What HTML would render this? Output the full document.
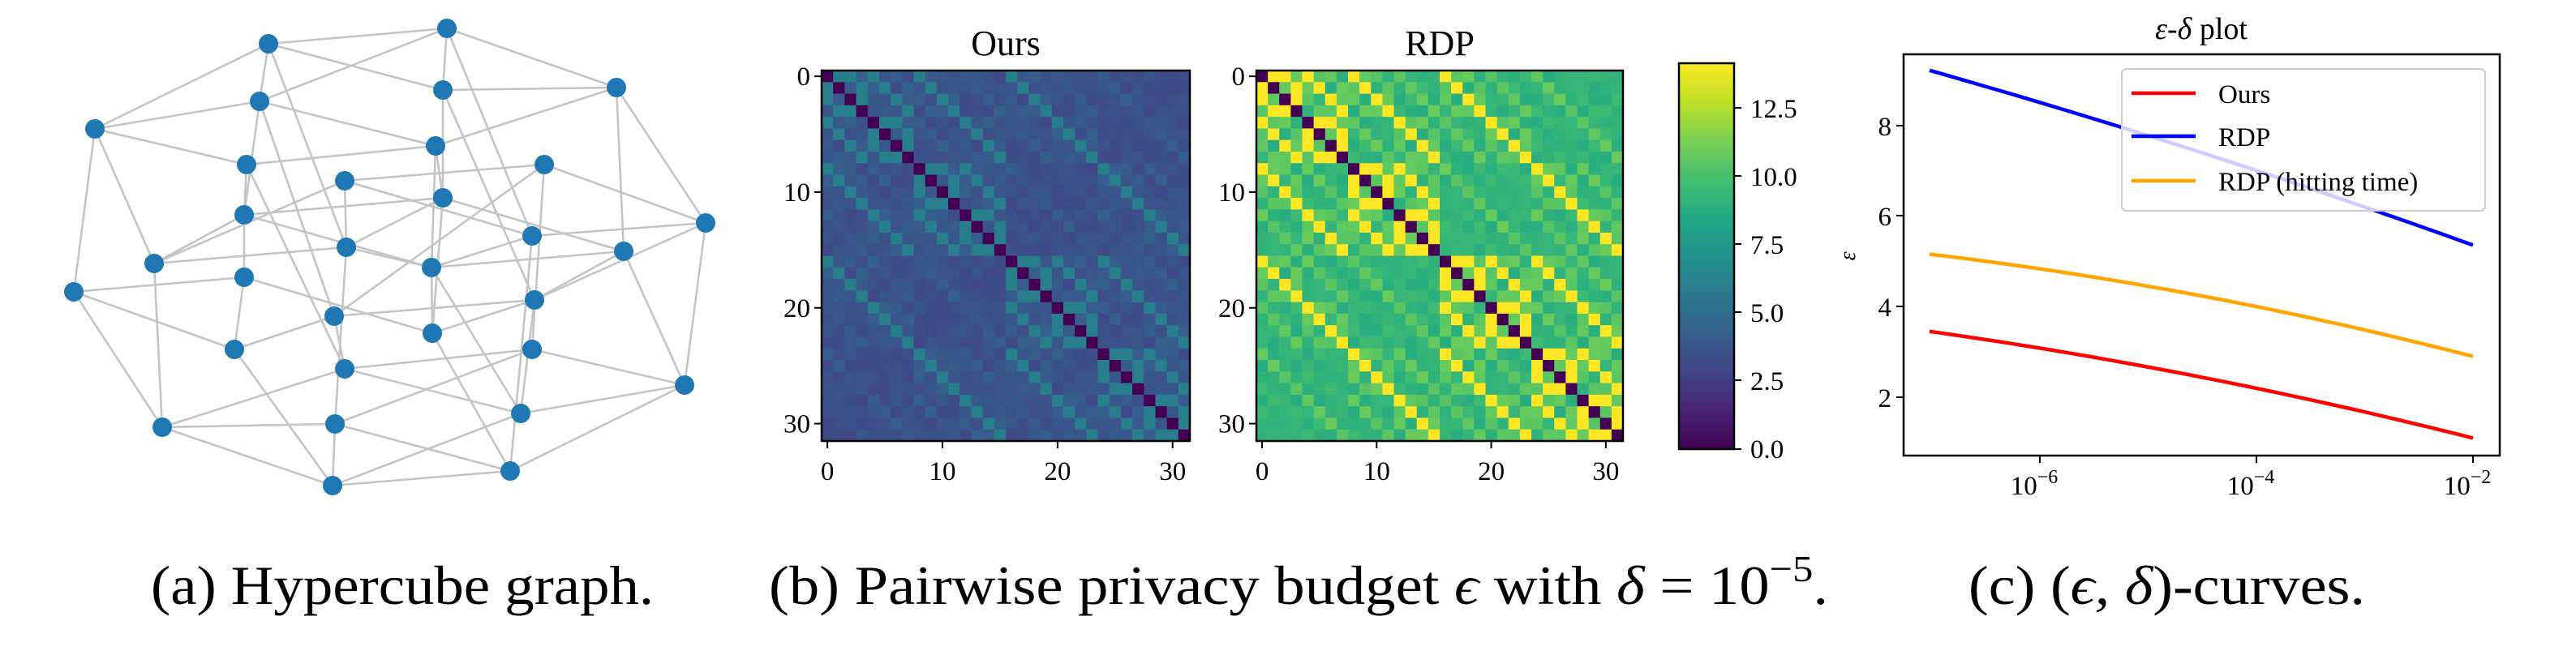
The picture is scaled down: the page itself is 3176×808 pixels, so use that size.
<!DOCTYPE html>
<html><head><meta charset="utf-8">
<style>
html,body{margin:0;padding:0;background:#fff;}
svg{display:block;}
text{font-family:"Liberation Serif","DejaVu Serif",serif;fill:#000;}
</style></head>
<body>
<svg id="s" xmlns="http://www.w3.org/2000/svg" width="3176" height="808" viewBox="0 0 3176 808">
<defs>
<linearGradient id="vir" x1="0" y1="1" x2="0" y2="0">
<stop offset="0" stop-color="#440154"/><stop offset="0.1" stop-color="#482475"/><stop offset="0.2" stop-color="#414487"/><stop offset="0.3" stop-color="#355f8d"/><stop offset="0.4" stop-color="#2a788e"/><stop offset="0.5" stop-color="#21918c"/><stop offset="0.6" stop-color="#22a884"/><stop offset="0.7" stop-color="#44bf70"/><stop offset="0.8" stop-color="#7ad151"/><stop offset="0.9" stop-color="#bddf26"/><stop offset="1" stop-color="#fde725"/>
</linearGradient>
<clipPath id="cbclip"><rect x="2000" y="0" width="222" height="600"/></clipPath>
</defs>
<g id="graph"></g>
<g id="hm"></g>
<g stroke="#000" stroke-width="2.5" fill="none">
<rect x="1013" y="87" width="454" height="457"/>
<rect x="1549" y="87" width="452" height="457"/>
<rect x="2070" y="78" width="68" height="476" fill="url(#vir)"/>
</g>
<g id="ticks" stroke="#000" stroke-width="2"></g>
<g font-size="33" id="tl"></g>
<text x="1240" y="68" font-size="44" text-anchor="middle">Ours</text>
<text x="1775" y="68" font-size="44" text-anchor="middle">RDP</text>
<g clip-path="url(#cbclip)" font-size="33">
<text x="2158" y="145">12.5</text><text x="2158" y="229">10.0</text><text x="2158" y="313">7.5</text>
<text x="2158" y="397">5.0</text><text x="2158" y="481">2.5</text><text x="2158" y="565">0.0</text>
</g>
<text x="2714" y="48" font-size="38" text-anchor="middle" font-style="italic">ε-δ <tspan font-style="normal">plot</tspan></text>
<g id="curves" fill="none" stroke-width="4.5"></g>
<rect x="2616" y="85" width="448" height="175" rx="6" fill="#fff" fill-opacity="0.8" stroke="#ccc" stroke-width="2"/>
<g stroke-width="4.5"><line x1="2628" y1="115" x2="2707" y2="115" stroke="#ff0000"/><line x1="2628" y1="168" x2="2707" y2="168" stroke="#0000ff"/><line x1="2628" y1="223" x2="2707" y2="223" stroke="#ffa500"/></g>
<g font-size="33"><text x="2735" y="127">Ours</text><text x="2735" y="180">RDP</text><text x="2735" y="235">RDP (hitting time)</text></g>
<rect x="2347" y="67" width="735" height="495" fill="none" stroke="#000" stroke-width="2.5"/>
<g stroke="#000" stroke-width="2">
<line x1="2515" y1="562" x2="2515" y2="571"/><line x1="2782" y1="562" x2="2782" y2="571"/><line x1="3049" y1="562" x2="3049" y2="571"/>
<line x1="2347" y1="155" x2="2338" y2="155"/><line x1="2347" y1="266" x2="2338" y2="266"/><line x1="2347" y1="378" x2="2338" y2="378"/><line x1="2347" y1="490" x2="2338" y2="490"/>
</g>
<g font-size="33" text-anchor="end"><text x="2332" y="167">8</text><text x="2332" y="278">6</text><text x="2332" y="390">4</text><text x="2332" y="502">2</text></g>
<g font-size="33" text-anchor="middle">
<text x="2508" y="610">10<tspan font-size="24" dy="-14">−6</tspan></text>
<text x="2775" y="610">10<tspan font-size="24" dy="-14">−4</tspan></text>
<text x="3042" y="610">10<tspan font-size="24" dy="-14">−2</tspan></text>
</g>
<text x="0" y="0" font-size="28" font-style="italic" transform="translate(2287,316) rotate(-90)" text-anchor="middle">ε</text>
<g font-size="68">
<text x="186" y="745" textLength="620" lengthAdjust="spacingAndGlyphs">(a) Hypercube graph.</text>
<text x="948" y="745" textLength="1306" lengthAdjust="spacingAndGlyphs">(b) Pairwise privacy budget <tspan font-style="italic">ϵ</tspan> with <tspan font-style="italic">δ</tspan> = 10<tspan font-size="46" dy="-28">−5</tspan><tspan dy="28">.</tspan></text>
<text x="2427" y="745" textLength="489" lengthAdjust="spacingAndGlyphs">(c) (<tspan font-style="italic">ϵ, δ</tspan>)-curves.</text>
</g>
</svg>
<script>
var NS="http://www.w3.org/2000/svg";
function el(p,t,a){var e=document.createElementNS(NS,t);for(var k in a)e.setAttribute(k,a[k]);p.appendChild(e);return e;}
var N=[[551,35],[331,54],[760,108],[546,111],[320,125],[117,159],[537,180],[304,203],[671,203],[425,223],[546,244],[870,275],[301,265],[656,291],[427,305],[769,310],[190,325],[532,330],[301,342],[91,360],[659,370],[412,390],[533,411],[289,431],[656,431],[425,455],[844,475],[642,510],[200,527],[413,523],[629,581],[410,599]];
var E=[[1,2],[1,3],[1,4],[1,5],[1,14],[2,4],[2,5],[2,6],[2,15],[3,4],[3,7],[3,12],[3,16],[4,11],[4,21],[5,6],[5,7],[5,13],[5,22],[6,8],[6,17],[6,20],[7,8],[7,18],[7,11],[8,13],[8,26],[9,10],[9,12],[9,25],[9,22],[10,15],[10,17],[10,14],[11,13],[11,15],[11,16],[11,23],[12,14],[12,21],[12,27],[13,17],[13,18],[13,19],[14,18],[14,31],[15,17],[15,18],[15,30],[16,18],[16,21],[16,27],[17,29],[18,23],[18,28],[19,20],[19,24],[19,23],[20,24],[20,29],[21,22],[21,23],[21,28],[22,26],[22,24],[23,31],[24,32],[25,26],[25,27],[25,30],[26,28],[26,29],[27,28],[27,31],[28,32],[29,30],[29,32],[30,31],[30,32],[31,32]];
var g=document.getElementById("graph");
E.forEach(function(e){var a=N[e[0]-1],b=N[e[1]-1];el(g,"line",{x1:a[0],y1:a[1],x2:b[0],y2:b[1],stroke:"#c4c4c4","stroke-width":2.6});});
N.forEach(function(n){el(g,"circle",{cx:n[0],cy:n[1],r:12,fill:"#1f77b4"});});
var V=[[68,1,84],[72,36,117],[65,68,135],[53,95,141],[42,120,142],[33,145,140],[34,168,132],[68,191,112],[122,209,81],[189,223,38],[253,231,37]];
function vir(t){t=Math.max(0,Math.min(1,t))*10;var i=Math.min(9,Math.floor(t)),f=t-i,a=V[i],b=V[i+1];return "rgb("+[0,1,2].map(function(k){return Math.round(a[k]+(b[k]-a[k])*f)}).join(",")+")";}
function hd(a,b){var x=a^b,c=0;while(x){c+=x&1;x>>=1;}return c;}
var hm=document.getElementById("hm"),VMAX=14.1;
var ours=[0,6.0,4.0,3.5,3.3,3.2],rdp=[0,14.1,10.6,9.0,9.4,9.0];
function draw(x0,w,vals,jit){var cw=w/32,ch=457/32;for(var i=0;i<32;i++)for(var j=0;j<32;j++){var d=hd(i,j),v=vals[d];if(d>1)v+=jit*(((i*7+j*13+(i&j))%5)-2)*0.12;el(hm,"rect",{x:(x0+j*cw).toFixed(2),y:(87+i*ch).toFixed(2),width:(cw+0.6).toFixed(2),height:(ch+0.6).toFixed(2),fill:vir(v/VMAX)});}}
draw(1013,454,ours,1);draw(1549,452,rdp,1);
var tk=document.getElementById("ticks"),tl=document.getElementById("tl");
[[1013,454],[1549,452]].forEach(function(p){var cw=p[1]/32,ch=457/32;[0,10,20,30].forEach(function(t){var x=p[0]+(t+0.5)*cw,y=87+(t+0.5)*ch;el(tk,"line",{x1:x,y1:544,x2:x,y2:553});el(tk,"line",{x1:p[0],y1:y,x2:p[0]-9,y2:y});var a=el(tl,"text",{x:x,y:592,"text-anchor":"middle"});a.textContent=t;var b=el(tl,"text",{x:p[0]-14,y:y+11,"text-anchor":"end"});b.textContent=t;});});
[133,217,301,385,469,554].forEach(function(y){el(tk,"line",{x1:2138,y1:y,x2:2147,y2:y});});
var cv=document.getElementById("curves");
function Y(v){return 490-(v-2)*56;}
function curve(a,m,b,col){var c=(m-a-0.6*(b-a))/(0.36-0.6),bb=b-a-c;var pts=[];for(var k=0;k<=50;k++){var t=k/50,v=a+bb*t+c*t*t;pts.push((2379+t*670).toFixed(1)+","+Y(v).toFixed(1));}el(cv,"polyline",{points:pts.join(" "),stroke:col});}
curve(9.2,7.0,5.35,"#0000ff");curve(5.15,4.0,2.9,"#ffa500");curve(3.45,2.2,1.1,"#ff0000");
</script>
</body></html>
